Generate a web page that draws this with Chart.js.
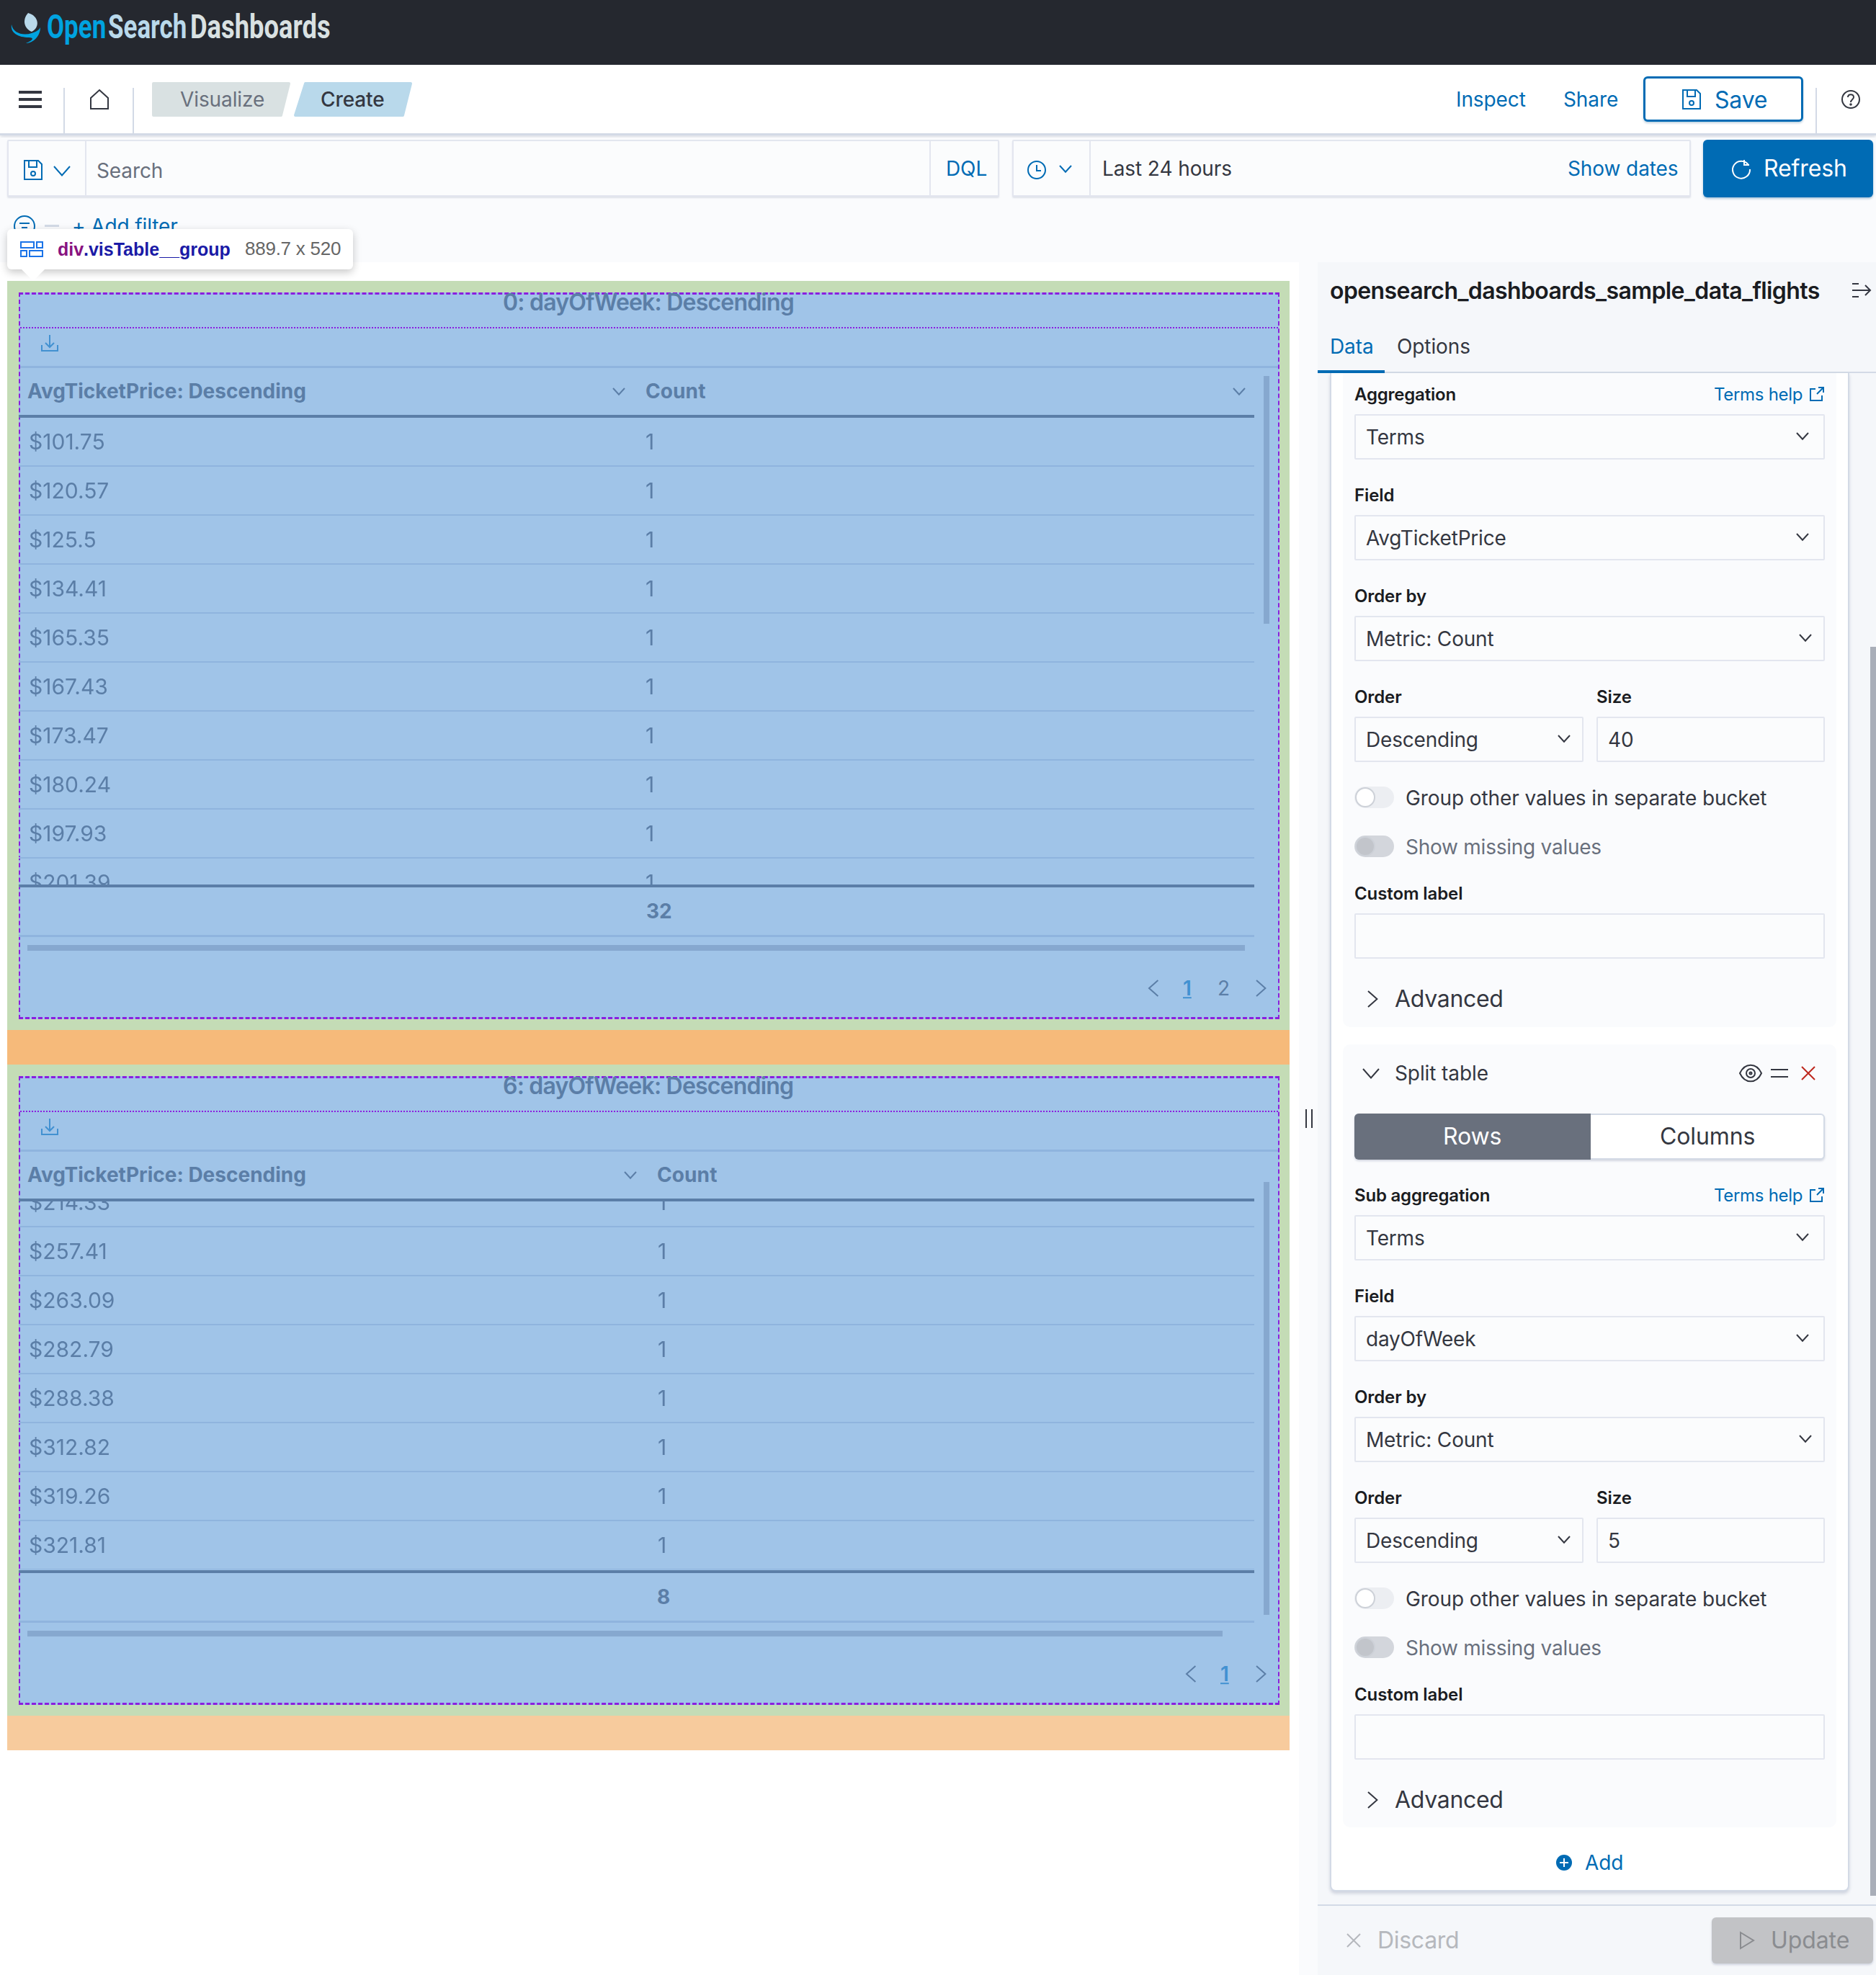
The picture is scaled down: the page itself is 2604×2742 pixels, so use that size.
<!DOCTYPE html>
<html>
<head>
<meta charset="utf-8">
<title>OpenSearch Dashboards</title>
<script src="https://cdn.jsdelivr.net/npm/chart.js@4"></script>
<style>
html,body{margin:0;padding:0;background:#fff;width:2604px;height:2742px;overflow:hidden;font-family:Inter,"Noto Sans",sans-serif}
#page{position:relative;width:2604px;height:2742px;overflow:hidden}
#page div,#page span.t,#page svg{position:absolute}
.t{white-space:nowrap;transform:translateY(-50%);line-height:1.2;letter-spacing:-.1px}
canvas{display:block}
</style>
</head>
<body>
<div id="page"></div>
<script>
// values
const dayOneTitle = '0: dayOfWeek: Descending'
const dayOnePrices = ['$101.75','$120.57','$125.5','$134.41','$165.35','$167.43','$173.47','$180.24','$197.93','$201.39']
const dayOneCounts = [1,1,1,1,1,1,1,1,1,1]
const dayOneTotal = 32
const dayTwoTitle = '6: dayOfWeek: Descending'
const dayTwoPrices = ['$214.33','$257.41','$263.09','$282.79','$288.38','$312.82','$319.26','$321.81']
const dayTwoCounts = [1,1,1,1,1,1,1,1]
const dayTwoTotal = 8

const page = document.getElementById('page')
const BLUE = '#006bb4', INK = '#343741', GREY = '#69707d', LINE = '#e3e6ef', MUTED = '#5b7ea7'

function box(x, y, w, h, style) {
    const d = document.createElement('div')
    d.style.cssText = `left:${x}px;top:${y}px;width:${w}px;height:${h}px;box-sizing:border-box;${style || ''}`
    page.appendChild(d)
    return d
}
function t(txt, x, y, size, color, weight, extra) {
    const s = document.createElement('span')
    s.className = 't'
    s.textContent = txt
    s.style.cssText = `left:${x}px;top:${y + 2}px;font-size:${size}px;color:${color};font-weight:${weight || 400};${extra || ''}`
    page.appendChild(s)
    return s
}
function icon(x, y, w, h, inner, color, sw) {
    const ns = 'http://www.w3.org/2000/svg'
    const s = document.createElementNS(ns, 'svg')
    s.setAttribute('viewBox', `0 0 ${w} ${h}`)
    s.setAttribute('width', w)
    s.setAttribute('height', h)
    s.style.cssText = `left:${x}px;top:${y}px;overflow:visible`
    s.setAttribute('fill', 'none')
    s.setAttribute('stroke', color)
    s.setAttribute('stroke-width', sw || 2)
    s.innerHTML = inner
    page.appendChild(s)
    return s
}
function chevDown(x, y, w, color) { icon(x, y - w * 0.3, w, w * 0.6, `<path d="M1 1 L${w / 2} ${w * 0.6 - 1} L${w - 1} 1"/>`, color || INK, 2) }
function chevRight(x, y, h, color) { icon(x, y - h / 2, h * 0.6, h, `<path d="M1 1 L${h * 0.6 - 1} ${h / 2} L1 ${h - 1}"/>`, color || INK, 2) }
function chevLeft(x, y, h, color) { icon(x, y - h / 2, h * 0.6, h, `<path d="M${h * 0.6 - 1} 1 L1 ${h / 2} L${h * 0.6 - 1} ${h - 1}"/>`, color || INK, 2) }
function saveIcon(x, y, color) { icon(x, y, 28, 28, '<path d="M2 1 H21 L26 6 V27 H2 Z"/><path d="M8 1 V10 H19 V1"/><circle cx="14" cy="19" r="3"/>', color, 2) }

// chrome: top bars
box(0, 0, 2604, 90, 'background:#25282f')
icon(14, 16, 50, 46, '<path d="M25 2 C40 6 42 22 30 28 C20 24 16 12 25 2 Z" fill="#b9d9eb" stroke="none"/><path d="M2 18 C4 30 18 34 30 30 C36 28 40 26 42 22 C42 34 32 44 22 44 C32 40 34 36 26 36 C12 36 0 30 2 18 Z" fill="#00a3e0" stroke="none"/>', 'none')
const logoStyle = 'font-family:Roboto;letter-spacing:0;transform-origin:0 0;transform:translateY(-50%) scaleX(.76)'
t('Open', 65, 36, 46, '#00a3e0', 700, logoStyle)
t('Search', 150, 36, 46, '#b9d9eb', 700, logoStyle)
t('Dashboards', 264, 36, 46, '#d9e1e2', 700, logoStyle.replace('.76', '.79'))

box(0, 90, 2604, 98, 'background:#fff;border-bottom:3px solid #d3dae6;box-shadow:0 3px 5px rgba(120,130,160,.25)')
box(26, 126, 32, 4, `background:${INK}`)
box(26, 136, 32, 4, `background:${INK}`)
box(26, 146, 32, 4, `background:${INK}`)
box(88, 122, 2, 64, 'background:#d3dae6')
box(184, 122, 2, 64, 'background:#d3dae6')
icon(124, 124, 28, 28, '<path d="M14 1 L26 12 V27 H2 V12 Z"/>', INK, 2)
icon(210, 114, 364, 48, '<path d="M3 2 H191 L180 46 H3 Z" fill="#d9e1e2" stroke="#d9e1e2" stroke-linejoin="round" stroke-width="4"/><path d="M214 2 H360 L349 46 H200 Z" fill="#b9d9eb" stroke="#b9d9eb" stroke-linejoin="round" stroke-width="4"/>', 'none')
t('Visualize', 250, 137, 28, GREY)
t('Create', 445, 137, 28, INK, 500)
t('Inspect', 2021, 137, 28, BLUE)
t('Share', 2170, 137, 28, BLUE)
box(2281, 106, 222, 63, `background:#fff;border:3px solid ${BLUE};border-radius:6px;box-shadow:0 2px 3px rgba(0,80,140,.25)`)
saveIcon(2334, 124, BLUE)
t('Save', 2380, 137, 32, BLUE, 400, 'letter-spacing:-.2px')
box(2520, 122, 2, 64, 'background:#d3dae6')
icon(2555, 124, 28, 28, '<circle cx="14" cy="14" r="12"/><path d="M10 11 C10 6 18 6 18 11 C18 14 14 14 14 18"/><circle cx="14" cy="21" r="0.8"/>', INK, 2)

// query bar
box(0, 191, 2604, 173, 'background:#fafbfd')
box(10, 194, 1377, 79, `background:#fbfcfd;border:2px solid ${LINE};border-radius:2px;box-shadow:0 2px 2px rgba(120,130,160,.2)`)
box(118, 196, 2, 75, `background:${LINE}`)
box(1290, 196, 2, 75, `background:${LINE}`)
saveIcon(32, 222, BLUE)
chevDown(74, 237, 24, BLUE)
t('Search', 134, 236, 28, GREY)
t('DQL', 1313, 233, 28, BLUE, 400)
box(1405, 194, 942, 79, `background:#fbfcfd;border:2px solid ${LINE};border-radius:2px;box-shadow:0 2px 2px rgba(120,130,160,.2)`)
box(1512, 196, 2, 75, `background:${LINE}`)
icon(1425, 222, 28, 28, '<circle cx="14" cy="14" r="12"/><path d="M14 7 V15 H20"/>', BLUE, 2)
chevDown(1470, 234, 18, BLUE)
t('Last 24 hours', 1530, 233, 28, INK)
t('Show dates', 2176, 233, 28, BLUE)
box(2364, 194, 236, 80, `background:${BLUE};border-radius:6px;box-shadow:0 2px 3px rgba(0,80,140,.3)`)
icon(2403, 220, 28, 28, '<path d="M24 9 A12 12 0 1 0 26 15"/><path d="M18 2 V9 H25"/>', '#fff', 2)
t('Refresh', 2448, 232, 32, '#fff', 400)

// filter row
icon(18, 298, 32, 32, '<circle cx="16" cy="16" r="14"/><path d="M9 12 H23 M12 18 H20"/>', BLUE, 2)
box(62, 312, 20, 3, 'background:#d3dae6')
t('+ Add filter', 100, 313, 28, BLUE)

// editor side panel background
box(0, 364, 1803, 2378, 'background:#fff')
box(1803, 364, 801, 2378, 'background:#fafbfd')
box(1829, 364, 775, 2378, 'background:#f5f7fa')
box(1812, 1540, 2, 26, `background:${INK}`)
box(1820, 1540, 2, 26, `background:${INK}`)

// table group with its inspector highlight
function tableGroup(top, opts) {
    box(10, top, 1780, opts.bottom - top, 'background:#c4dcb6')
    box(10, opts.bottom, 1780, opts.orangeH, `background:${opts.orange}`)
    box(26, top + 16, 1750, opts.bottom - top - 31, 'background:#a0c4e8;border:2px dashed #8a1fdf;border-top-width:3px;border-bottom-width:3px')
    box(28, top + 64, 1746, 2, 'border-top:2px dotted #8a1fdf')
    t(opts.title, 698, top + 28, 32, MUTED, 600, 'letter-spacing:-.8px')
    icon(57, top + 74, 24, 24, '<path d="M12 1 V17 M6 12 L12 18 L18 12 M1 15 V23 H23 V15"/>', '#4291d1', 2)
    box(28, top + 118, 1746, 3, 'background:#8fb4de')
    t('AvgTicketPrice: Descending', 38, top + 152, 28, MUTED, 700, 'letter-spacing:0')
    chevDown(opts.colX - 46, top + 153, 18, MUTED)
    t('Count', opts.colX, top + 152, 28, MUTED, 700, 'letter-spacing:.1px')
    if (opts.countChevron) chevDown(1711, top + 153, 18, MUTED)
}
tableGroup(390, { bottom: 1430, orangeH: 48, orange: '#f6ba7a', title: dayOneTitle, colX: 896, countChevron: true })
tableGroup(1478, { bottom: 2382, orangeH: 48, orange: '#f7cb9d', title: dayTwoTitle, colX: 912, countChevron: false })

// count cell text sits where the library places each point
const countLabels = {
    id: 'countLabels',
    afterDatasetsDraw(chart) {
        const ctx = chart.ctx
        const meta = chart.getDatasetMeta(0)
        ctx.save()
        ctx.font = '400 30px Inter'
        ctx.fillStyle = MUTED
        ctx.textAlign = 'left'
        ctx.textBaseline = 'middle'
        meta.data.forEach((pt, i) => ctx.fillText(String(chart.data.datasets[0].data[i]), pt.x, pt.y + 2))
        ctx.restore()
    }
}

function drawTable(prices, counts, x, top, clipTop, clipBottom, colX) {
    const holder = box(x, clipTop, 1715, clipBottom - clipTop, 'overflow:hidden')
    const canvas = document.createElement('canvas')
    canvas.style.position = 'absolute'
    canvas.style.left = '0px'
    canvas.style.top = (top - clipTop) + 'px'
    holder.appendChild(canvas)
    const height = prices.length * 68
    canvas.width = 1715
    canvas.height = height
    canvas.style.width = '1715px'
    canvas.style.height = height + 'px'
    new Chart(canvas, {
        type: 'line',
        data: {
            labels: prices,
            datasets: [{ label: 'Count', data: counts, showLine: false, pointRadius: 0 }]
        },
        options: {
            indexAxis: 'y',
            responsive: false,
            animation: false,
            devicePixelRatio: 1,
            layout: { padding: 0, autoPadding: false },
            plugins: { legend: { display: false }, tooltip: { enabled: false } },
            scales: {
                x: { display: false, min: 0, max: 1715 / (colX - x) },
                y: {
                    type: 'category',
                    offset: true,
                    border: { display: false },
                    grid: { offset: true, color: '#8fb4de', lineWidth: 2, drawTicks: false },
                    ticks: {
                        mirror: true, padding: 14, labelOffset: 2, autoSkip: false, color: MUTED,
                        font: { family: 'Inter', size: 30 }
                    },
                    // labels sit inside the plot, so the axis takes no room of its own
                    afterFit(scale) {
                        scale.width = 0
                        scale.paddingTop = 0
                        scale.paddingBottom = 0
                    }
                }
            }
        },
        plugins: [countLabels]
    })
}
drawTable(dayOnePrices, dayOneCounts, 26, 579, 579, 1228, 896)
drawTable(dayTwoPrices, dayTwoCounts, 26, 1635, 1666, 2180, 913)

function tableFrame(o) {
    box(26, o.headLine, 1715, 4, `background:${MUTED}`)
    box(26, o.footLine, 1715, 4, `background:${MUTED}`)
    t(String(o.total), o.colX, o.totalY, 28, MUTED, 700)
    box(26, o.sepY, 1715, 3, 'background:#8fb4de')
    box(38, o.hbarY, o.hbarW, 8, 'background:#86a8cf')
    box(1754, o.vbarTop, 8, o.vbarH, 'background:#86a8cf')
}
tableFrame({ headLine: 576, footLine: 1228, total: dayOneTotal, colX: 897, totalY: 1264, sepY: 1298, hbarY: 1312, hbarW: 1690, vbarTop: 522, vbarH: 344 })
tableFrame({ headLine: 1664, footLine: 2180, total: dayTwoTotal, colX: 912, totalY: 2216, sepY: 2250, hbarY: 2264, hbarW: 1659, vbarTop: 1641, vbarH: 601 })

chevLeft(1594, 1372, 24, MUTED)
t('1', 1642, 1371, 28, '#4291d1', 600, 'text-decoration:underline')
t('2', 1690, 1371, 28, MUTED)
chevRight(1743, 1372, 24, MUTED)
chevLeft(1646, 2324, 24, MUTED)
t('1', 1694, 2323, 28, '#4291d1', 600, 'text-decoration:underline')
chevRight(1743, 2324, 24, MUTED)

// inspector tooltip
box(10, 318, 480, 56, 'background:#fff;border-radius:6px;box-shadow:0 4px 12px rgba(0,0,0,.22)')
icon(30, 374, 32, 16, '<path d="M0 0 H32 L16 16 Z" fill="#fff" stroke="none"/>', 'none')
icon(28, 335, 32, 22, '<rect x="1" y="1" width="18" height="8"/><rect x="23" y="1" width="8" height="8"/><rect x="1" y="13" width="8" height="8"/><rect x="13" y="13" width="18" height="8"/>', '#1a73e8', 2)
t('div', 80, 344, 25, '#881280', 700, 'font-family:"Liberation Sans";letter-spacing:0')
t('.visTable__group', 116, 344, 25, '#1a1aa6', 700, 'font-family:"Liberation Sans";letter-spacing:0')
t('889.7 x 520', 340, 344, 26, '#666', 400, 'font-family:"Liberation Sans";letter-spacing:-.25px')

// right panel
t('opensearch_dashboards_sample_data_flights', 1846, 402, 32, '#1a1c21', 600, 'letter-spacing:-.6px')
icon(2570, 392, 28, 22, '<path d="M1 2 H10 M1 20 H10 M1 11 H26 M19 4 L26 11 L19 18"/>', INK, 2)
t('Data', 1846, 480, 28, BLUE)
t('Options', 1939, 480, 28, INK)
box(1829, 516, 775, 2, 'background:#d3dae6')
box(1829, 514, 93, 4, `background:${BLUE}`)

box(1846, 518, 721, 2108, 'background:#fff;border:2px solid #d3dae6;border-top:0;border-radius:0 0 8px 8px;box-shadow:0 3px 4px rgba(120,130,160,.3)')
box(1864, 518, 685, 908, 'background:#fafbfd;border-radius:0 0 10px 10px')
box(1864, 1450, 685, 1087, 'background:#fafbfd;border-radius:10px')
box(2596, 898, 8, 1734, 'background:#a9aeb8')

function field(x, y, w, txt, chev) {
    box(x, y, w, 63, `background:#fbfcfd;border:2px solid ${LINE};border-radius:2px`)
    if (txt) t(txt, x + 16, y + 31, 28, INK, 400, 'letter-spacing:-.2px')
    if (chev) chevDown(x + w - chev, y + 30, 18, INK)
}
function toggle(y, disabled) {
    box(1880, y - 15, 55, 30, `background:${disabled ? '#d3d6dc' : '#eceef2'};border-radius:15px`)
    box(1881, y - 14, 28, 28, `background:${disabled ? '#c2c5cb' : '#fff'};border-radius:14px;border:2px solid #cdd1d8`)
}
function aggBlock(off, label, fieldVal, size) {
    t(label, 1880, 546 + off, 24, '#1a1c21', 600, 'letter-spacing:-.2px')
    t('Terms help', 2379, 546 + off, 24, BLUE, 400, 'letter-spacing:-.3px')
    icon(2512, 537 + off, 20, 20, '<path d="M8 3 H1 V19 H17 V12 M10 10 L19 1 M12 1 H19 V8"/>', BLUE, 2)
    field(1880, 575 + off, 653, 'Terms', 40)
    t('Field', 1880, 686 + off, 24, '#1a1c21', 600)
    field(1880, 715 + off, 653, fieldVal, 40)
    t('Order by', 1880, 826 + off, 24, '#1a1c21', 600)
    field(1880, 855 + off, 653, 'Metric: Count', 36)
    t('Order', 1880, 966 + off, 24, '#1a1c21', 600)
    t('Size', 2216, 966 + off, 24, '#1a1c21', 600)
    field(1880, 995 + off, 318, 'Descending', 36)
    field(2216, 995 + off, 317, size)
    toggle(1107 + off, false)
    t('Group other values in separate bucket', 1951, 1107 + off, 28, INK)
    toggle(1175 + off, true)
    t('Show missing values', 1951, 1175 + off, 28, GREY, 400, 'letter-spacing:-.25px')
    t('Custom label', 1880, 1239 + off, 24, '#1a1c21', 600)
    field(1880, 1268 + off, 653, '')
    chevRight(1898, 1387 + off, 24, INK)
    t('Advanced', 1936, 1385 + off, 32, INK, 400, 'letter-spacing:-.3px')
}
aggBlock(0, 'Aggregation', 'AvgTicketPrice', '40')
chevDown(1891, 1490, 24, INK)
t('Split table', 1936, 1489, 28, INK)
icon(2414, 1477, 32, 26, '<path d="M1 13 C8 -2 24 -2 31 13 C24 28 8 28 1 13 Z"/><circle cx="16" cy="13" r="6"/><circle cx="16" cy="13" r="1.5"/>', INK, 2)
box(2458, 1484, 24, 2, `background:${INK}`)
box(2458, 1494, 24, 2, `background:${INK}`)
icon(2500, 1480, 20, 20, '<path d="M1 1 L19 19 M19 1 L1 19"/>', '#bd271e', 2)
box(1880, 1546, 653, 64, 'background:#fff;border:2px solid #d3dae6;border-radius:6px;box-shadow:0 2px 3px rgba(120,130,160,.3)')
box(1880, 1546, 328, 64, `background:${GREY};border-radius:6px 0 0 6px`)
t('Rows', 2003, 1576, 32, '#fff')
t('Columns', 2304, 1576, 32, INK)
aggBlock(1112, 'Sub aggregation', 'dayOfWeek', '5')

icon(2160, 2575, 22, 22, '<circle cx="11" cy="11" r="11" fill="#006bb4" stroke="none"/><path d="M11 5 V17 M5 11 H17" stroke="#fff"/>', 'none')
t('Add', 2200, 2585, 28, BLUE, 400)

box(1829, 2644, 775, 2, 'background:#d3dae6')
icon(1869, 2684, 20, 20, '<path d="M1 1 L19 19 M19 1 L1 19"/>', '#b5b8bd', 2)
t('Discard', 1912, 2692, 32, '#b5b8bd', 400, 'letter-spacing:-.3px')
box(2376, 2662, 224, 64, 'background:#c2c3c6;border-radius:6px;box-shadow:0 2px 3px rgba(120,130,160,.3)')
icon(2415, 2682, 20, 24, '<path d="M1 1 L19 12 L1 23 Z"/>', '#8a8c90', 2)
t('Update', 2458, 2692, 32, '#8a8c90', 400)
</script>
</body>
</html>
